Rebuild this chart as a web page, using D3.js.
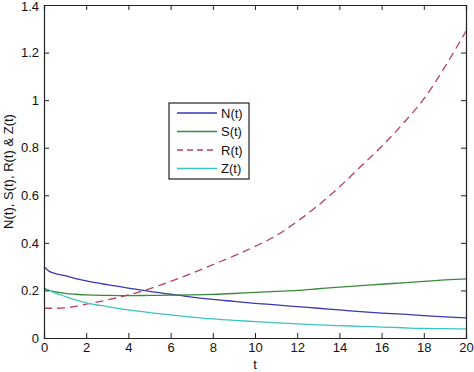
<!DOCTYPE html>
<html>
<head>
<meta charset="utf-8">
<script src="https://cdn.jsdelivr.net/npm/d3@7"></script>
<style>
  body { margin: 0; background: #fff; }
  text { font-family: "Liberation Sans", Arial, sans-serif; fill: #111; }
</style>
</head>
<body>
<div id="scene"></div>
<script>
const tValues = [0, 0.25, 0.5, 1, 1.5, 2, 3, 4, 5, 6, 7, 8, 9, 10, 11, 12, 13, 14, 15, 16, 17, 18, 19, 20];
const nValues = [0.30, 0.28, 0.272, 0.262, 0.25, 0.24, 0.224, 0.21, 0.196, 0.184, 0.172, 0.162, 0.154, 0.146, 0.139, 0.132, 0.125, 0.118, 0.111, 0.105, 0.10, 0.094, 0.089, 0.085];
const sValues = [0.21, 0.20, 0.195, 0.188, 0.184, 0.181, 0.179, 0.178, 0.179, 0.18, 0.181, 0.183, 0.187, 0.192, 0.196, 0.20, 0.207, 0.214, 0.22, 0.226, 0.232, 0.238, 0.244, 0.249];
const rValues = [0.125, 0.125, 0.125, 0.127, 0.133, 0.142, 0.16, 0.181, 0.207, 0.238, 0.272, 0.308, 0.345, 0.385, 0.43, 0.49, 0.558, 0.635, 0.72, 0.805, 0.90, 1.005, 1.14, 1.29];
const zValues = [0.21, 0.20, 0.19, 0.175, 0.16, 0.148, 0.132, 0.118, 0.107, 0.097, 0.088, 0.08, 0.074, 0.069, 0.064, 0.059, 0.055, 0.052, 0.049, 0.046, 0.043, 0.04, 0.039, 0.038];
const seriesNames = ["N(t)", "S(t)", "R(t)", "Z(t)"];
const xTicks = [0, 2, 4, 6, 8, 10, 12, 14, 16, 18, 20];
const yTicks = [0, 0.2, 0.4, 0.6, 0.8, 1, 1.2, 1.4];

const width = 474, height = 372;
const margin = { top: 5, right: 8, bottom: 34, left: 44 };

const svg = d3.select("#scene")
    .append("svg")
    .attr("width", width)
    .attr("height", height);

const x = d3.scaleLinear().domain([0, 20]).range([margin.left, width - margin.right]);
const y = d3.scaleLinear().domain([0, 1.4]).range([height - margin.bottom, margin.top]);

const series = [
    { name: seriesNames[0], values: nValues, color: "#3838b0", dash: null },
    { name: seriesNames[1], values: sValues, color: "#3a8a3a", dash: null },
    { name: seriesNames[2], values: rValues, color: "#b8405a", dash: "8,5" },
    { name: seriesNames[3], values: zValues, color: "#3cc4c4", dash: null }
];

const line = d3.line()
    .x((d, i) => x(tValues[i]))
    .y(d => y(d))
    .curve(d3.curveMonotoneX);

svg.selectAll(".curve")
    .data(series)
    .enter()
    .append("path")
    .attr("class", "curve")
    .attr("d", d => line(d.values))
    .attr("fill", "none")
    .attr("stroke", d => d.color)
    .attr("stroke-width", 1.3)
    .attr("stroke-dasharray", d => d.dash);

// axes, matlab style: ticks inward on every side
const tick = 5;
const fmt = d => String(d);
svg.append("g")
    .attr("transform", `translate(0,${height - margin.bottom})`)
    .call(d3.axisBottom(x).tickValues(xTicks).tickSize(-tick).tickPadding(5).tickFormat(fmt));
svg.append("g")
    .attr("transform", `translate(0,${margin.top})`)
    .call(d3.axisTop(x).tickValues(xTicks).tickSize(-tick).tickFormat(""));
const yAxis = svg.append("g")
    .attr("transform", `translate(${margin.left},0)`)
    .call(d3.axisLeft(y).tickValues(yTicks).tickSize(-tick).tickPadding(5).tickFormat(fmt));
svg.append("g")
    .attr("transform", `translate(${width - margin.right},0)`)
    .call(d3.axisRight(y).tickValues(yTicks).tickSize(-tick).tickFormat(""));

svg.selectAll(".domain").attr("stroke", "#222").attr("stroke-width", 1.2);
svg.selectAll(".tick line").attr("stroke", "#222");
svg.selectAll(".tick text").style("font-size", "13px").attr("fill", "#111");
// keep the top label inside the picture
yAxis.selectAll(".tick text").filter(d => d === 1.4).attr("dy", "0.45em");

svg.append("text")
    .attr("x", x(10))
    .attr("y", 369)
    .attr("text-anchor", "middle")
    .style("font-size", "13px")
    .text("t");

svg.append("text")
    .attr("transform", `translate(13,${y(0.7)}) rotate(-90)`)
    .attr("text-anchor", "middle")
    .style("font-size", "13px")
    .text("N(t), S(t), R(t) & Z(t)");

// legend
const legend = svg.append("g").attr("transform", "translate(169,103)");
legend.append("rect")
    .attr("width", 80)
    .attr("height", 76)
    .attr("fill", "#fff")
    .attr("stroke", "#222")
    .attr("stroke-width", 1.2);

const rows = legend.selectAll(".row")
    .data(series)
    .enter()
    .append("g")
    .attr("transform", (d, i) => `translate(0,${10 + i * 18.5})`);
rows.append("line")
    .attr("x1", 8).attr("x2", 48)
    .attr("stroke", d => d.color)
    .attr("stroke-width", 1.3)
    .attr("stroke-dasharray", d => d.dash ? "6,4" : null);
rows.append("text")
    .attr("x", 52)
    .attr("dy", "0.35em")
    .style("font-size", "13px")
    .text(d => d.name);
</script>
</body>
</html>
